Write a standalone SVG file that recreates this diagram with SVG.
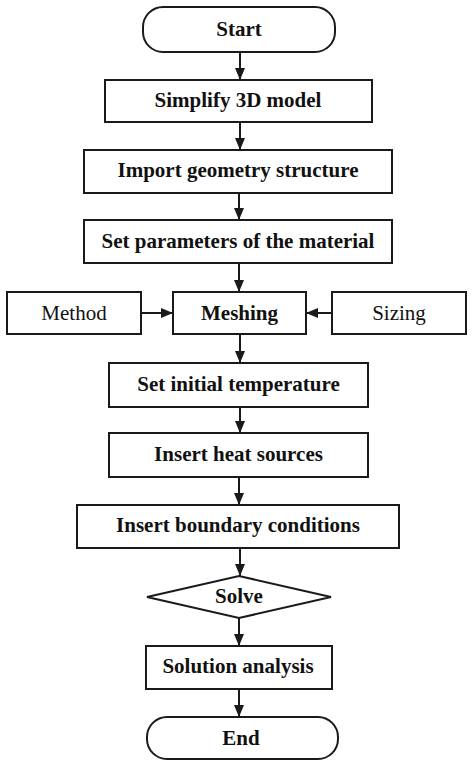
<svg xmlns="http://www.w3.org/2000/svg" width="474" height="768" viewBox="0 0 474 768">
<style>
.box{fill:#fff;stroke:#1a1a1a;stroke-width:2}
.t{font-family:"Liberation Serif","Times New Roman",serif;font-size:21px;font-weight:bold;fill:#111;text-anchor:middle}
.r{font-weight:normal}
.c{stroke:#1a1a1a;stroke-width:2;fill:none;marker-end:url(#ah)}
</style>
<defs>
<marker id="ah" markerUnits="userSpaceOnUse" markerWidth="12" markerHeight="10" refX="12" refY="5" orient="auto">
<path d="M0,0 L12,5 L0,10 z" fill="#1a1a1a"/>
</marker>
</defs>
<rect width="474" height="768" fill="#fff"/>
<g id="connectors">
<line class="c" x1="240" y1="52" x2="240" y2="80"/>
<line class="c" x1="240" y1="122" x2="240" y2="150"/>
<line class="c" x1="239" y1="193" x2="239" y2="220"/>
<line class="c" x1="239" y1="263" x2="239" y2="292"/>
<line class="c" x1="141" y1="313" x2="173" y2="313"/>
<line class="c" x1="332" y1="313" x2="306" y2="313"/>
<line class="c" x1="240" y1="334" x2="240" y2="363"/>
<line class="c" x1="240" y1="407" x2="240" y2="433"/>
<line class="c" x1="239" y1="477" x2="239" y2="505"/>
<line class="c" x1="240" y1="548" x2="240" y2="576"/>
<line class="c" x1="239" y1="618" x2="239" y2="646"/>
<line class="c" x1="239" y1="689" x2="239" y2="717"/>
</g>
<g id="start"><rect class="box" x="143" y="7" width="192" height="45" rx="20"/><text class="t" x="239" y="35.5">Start</text></g>
<g id="simplify"><rect class="box" x="105" y="80" width="267" height="42"/><text class="t" x="238" y="106.5">Simplify 3D model</text></g>
<g id="import"><rect class="box" x="84" y="150" width="308" height="43"/><text class="t" x="238" y="177">Import geometry structure</text></g>
<g id="setparams"><rect class="box" x="84" y="220" width="308" height="43"/><text class="t" x="238" y="248">Set parameters of the material</text></g>
<g id="method"><rect class="box" x="7" y="292" width="134" height="42"/><text class="t r" x="74" y="320">Method</text></g>
<g id="meshing"><rect class="box" x="173" y="292" width="133" height="42"/><text class="t" x="239.5" y="320">Meshing</text></g>
<g id="sizing"><rect class="box" x="332" y="292" width="134" height="42"/><text class="t r" x="399" y="320">Sizing</text></g>
<g id="inittemp"><rect class="box" x="109" y="363" width="259" height="44"/><text class="t" x="238.5" y="391">Set initial temperature</text></g>
<g id="heat"><rect class="box" x="109" y="433" width="259" height="44"/><text class="t" x="238.5" y="461">Insert heat sources</text></g>
<g id="boundary"><rect class="box" x="77" y="505" width="322" height="43"/><text class="t" x="238" y="532">Insert boundary conditions</text></g>
<g id="solve"><polygon class="box" points="147,597 239,576 331,597 239,618"/><text class="t" x="239" y="602.5">Solve</text></g>
<g id="analysis"><rect class="box" x="146" y="646" width="186" height="43"/><text class="t" x="238" y="673">Solution analysis</text></g>
<g id="end"><rect class="box" x="147" y="717" width="191" height="42" rx="20"/><text class="t" x="241" y="745">End</text></g>
</svg>
